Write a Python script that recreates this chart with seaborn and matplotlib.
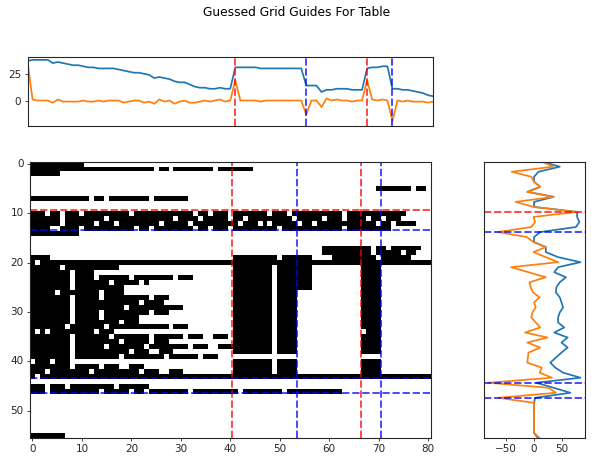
import numpy as np
import matplotlib
matplotlib.use("Agg")
import matplotlib.pyplot as plt
import seaborn as sns

W, H = 595, 462

# column totals and their step along the top panel
TOP_COLS = list(range(81))
TOP_TOTAL = [37, 38, 38, 38, 38, 35, 36, 35, 34, 33, 33, 32, 31, 31, 30, 30, 30, 30, 29, 28,
             27, 26, 26, 25, 24, 21, 22, 21, 20, 18, 17, 17, 15, 13, 12, 12, 11, 11, 12, 11,
             11, 31, 31, 31, 31, 31, 30, 30, 30, 30, 30, 30, 30, 30, 30, 14, 14, 14, 8, 10,
             10, 11, 11, 11, 10, 10, 10, 30, 31, 31, 32, 32, 11, 11, 10, 10, 9, 8, 7, 5, 4]
TOP_STEP = [36, 1, 0, 0, 0, -2, 1, -1, -1, -1, -1, 0, -1, -1, 0, -1, 0, 0, 0, -2,
            -1, 0, 0, -2, -1, -3, 1, -1, 0, -3, -1, 0, -2, -2, -1, 0, -1, 0, 1, -1,
            0, 19, 0, 0, 0, 0, -1, 0, 0, 0, 0, 0, 0, 0, 0, -13, 0, 0, -6, 2,
            0, 1, 0, 0, -1, 0, 0, 19, 1, 0, 1, 0, -19, 0, -1, 0, -1, -1, -1, -2, -1]

# row totals and their step along the side panel
SIDE_ROWS = list(range(56))
SIDE_TOTAL = [15, 46, 8, 0, 0, 11, -12, 35, 0, 0, 77, 77, 81, 75, 11, 0, 0, 21, 21, 43,
              83, 43, 36, 57, 46, 40, 39, 46, 49, 52, 46, 43, 43, 54, 36, 60, 49, 60, 49, 39,
              29, 38, 52, 83, 4, 35, 65, 2, 0, 0, 0, 0, 0, 0, 0, 7]
SIDE_STEP = [15, 34, -40, -5, 0, 11, -12, 35, -33, -1, 76, -1, 2, -5, -64, -13, -1, 21, -1, 21,
             43, -41, -10, 21, -8, -6, -2, 10, 0, 3, -3, -5, 3, 11, -16, 24, -12, 11, -10, -11,
             -12, 14, 10, 32, -82, 26, 39, -64, 0, 0, 0, 0, 0, 0, 0, 10]

# guide positions
MAIN_V_RED = [-0.5, 40.4, 66.4]
MAIN_V_BLUE = [53.5, 70.5]
MAIN_H_RED = [9.3]
MAIN_H_BLUE = [13.4, 43.3, 46.3]
TOP_V_RED = [41, 67]
TOP_V_BLUE = [55, 72]
SIDE_H_RED = [10]
SIDE_H_BLUE = [14, 44, 47]

# black runs (first col, last col) for each row of the table mask
WIDE = [(41, 48), (50, 56), (67, 70)]
NARROW = [(41, 48), (50, 53), (67, 70)]
ROW_RUNS = {
    0: [(0, 10)],
    1: [(0, 24), (26, 27), (29, 36), (38, 44)],
    2: [(0, 5)],
    5: [(70, 76), (78, 79)],
    7: [(0, 11), (13, 14), (16, 23), (25, 31)],
    10: [(0, 2), (4, 5), (7, 9), (11, 19), (21, 32), (34, 35), (37, 39), (41, 47), (49, 51), (53, 62), (64, 75)],
    11: [(0, 5), (7, 14), (16, 28), (30, 33), (35, 39), (41, 42), (44, 52), (54, 58), (60, 62), (64, 67), (69, 70), (72, 74)],
    12: [(0, 5), (7, 12), (14, 16), (18, 25), (27, 31), (33, 41), (43, 45), (47, 47), (49, 53), (55, 56), (58, 69), (71, 72), (74, 77)],
    13: [(0, 3), (6, 9), (11, 20), (22, 23), (25, 32), (34, 35), (37, 39), (41, 49), (51, 62), (64, 72)],
    14: [(0, 9)],
    17: [(59, 68), (70, 71), (73, 78)],
    18: [(59, 68), (70, 74), (76, 77)],
    19: [(0, 3), (41, 49), (51, 56), (61, 69), (71, 76)],
    20: [(0, 0), (2, 80)],
    21: [(0, 5), (7, 17)] + WIDE,
    22: [(0, 7), (9, 12)] + WIDE,
    23: [(0, 7), (9, 12), (14, 19), (21, 28), (30, 32)] + WIDE,
    24: [(0, 7), (9, 15), (17, 21), (23, 23)] + WIDE,
    25: [(0, 7), (9, 18)] + WIDE,
    26: [(0, 4), (6, 13), (15, 18)] + NARROW,
    27: [(0, 7), (9, 13), (15, 23), (25, 27)] + NARROW,
    28: [(0, 7), (9, 21), (23, 26)] + NARROW,
    29: [(0, 7), (9, 18), (20, 30)] + NARROW,
    30: [(0, 7), (9, 13), (15, 23), (25, 27)] + NARROW,
    31: [(0, 7), (9, 13), (15, 21)] + NARROW,
    32: [(0, 7), (9, 17), (19, 21)] + NARROW,
    33: [(0, 6), (8, 14), (16, 27), (29, 31)] + NARROW,
    34: [(0, 0), (2, 2), (4, 12), (14, 16), (41, 48), (50, 53), (68, 70)],
    35: [(0, 7), (9, 15), (17, 23), (25, 30), (32, 34), (37, 39)] + NARROW,
    36: [(0, 7), (9, 17), (19, 23), (25, 27)] + NARROW,
    37: [(0, 7), (9, 14), (16, 22), (24, 31), (33, 35), (38, 40)] + NARROW,
    38: [(0, 7), (9, 19), (21, 23), (26, 28)] + NARROW,
    39: [(0, 7), (9, 17), (19, 26), (28, 33), (35, 37)],
    40: [(1, 3), (5, 7)] + NARROW,
    41: [(0, 7), (9, 13), (15, 17), (20, 22)] + NARROW,
    42: [(0, 2), (4, 11), (13, 21), (23, 25), (28, 30)] + NARROW,
    43: [(0, 0), (2, 80)],
    45: [(0, 2), (4, 6), (8, 16), (18, 23)],
    46: [(0, 2), (4, 13), (15, 19), (21, 22), (24, 31), (33, 41), (43, 50), (52, 62)],
    55: [(0, 6)],
}
X_TICKS = [0, 10, 20, 30, 40, 50, 60, 70, 80]
Y_TICKS = [0, 10, 20, 30, 40, 50]
TOP_TICKS = [0, 25]
SIDE_TICKS = [-50, 0, 50]

BLUE_LINE = "#1f77b4"
ORANGE_LINE = "#ff7f0e"

sns.set_style("ticks")
plt.rcParams["font.family"] = ["DejaVu Sans"]


def px_axes(fig, left, top, right, bottom):
    return fig.add_axes([left / W, 1 - bottom / H, (right - left) / W, (bottom - top) / H])


def guides(ax, vert_red=(), vert_blue=(), horiz_red=(), horiz_blue=(), shift=0.0):
    style = dict(ls=(0, (4.2, 1.6)), lw=1.25, alpha=0.8, zorder=5)
    for v in vert_red:
        ax.axvline(v + shift, color="red", **style)
    for v in vert_blue:
        ax.axvline(v + shift, color="blue", **style)
    for v in horiz_red:
        ax.axhline(v + shift, color="red", **style)
    for v in horiz_blue:
        ax.axhline(v + shift, color="blue", **style)


def style_axes(ax):
    for s in ax.spines.values():
        s.set_visible(True)
        s.set_linewidth(0.8)
        s.set_zorder(6)
    ax.tick_params(labelsize=7.5, length=2.5, width=0.6, pad=2)


def main():
    mask = np.zeros((56, 81))
    for row, runs in ROW_RUNS.items():
        for a, b in runs:
            mask[row, a:b + 1] = 1

    fig = plt.figure(figsize=(W / 100, H / 100), dpi=100)
    fig.text(297 / W, 1 - 12.5 / H, "Guessed Grid Guides For Table", ha="center", va="center",
             fontsize=8.8, color="black")

    ax_top = px_axes(fig, 27.5, 57.3, 433, 126)
    sns.lineplot(x=TOP_COLS, y=TOP_TOTAL, color=BLUE_LINE, lw=1.25, ax=ax_top)
    sns.lineplot(x=TOP_COLS, y=TOP_STEP, color=ORANGE_LINE, lw=1.25, ax=ax_top)
    guides(ax_top, TOP_V_RED, TOP_V_BLUE)
    ax_top.set_xlim(0, 80)
    ax_top.set_ylim(-23.8, 40.4)
    ax_top.set_xticks([])
    ax_top.set_yticks(TOP_TICKS)
    style_axes(ax_top)

    ax_main = px_axes(fig, 30, 161.6, 430.7, 438)
    sns.heatmap(mask, cmap="gray_r", vmin=0, vmax=1, cbar=False, square=False, ax=ax_main)
    ax_main.set_aspect("auto")
    guides(ax_main, MAIN_V_RED, MAIN_V_BLUE, MAIN_H_RED, MAIN_H_BLUE, shift=0.5)
    ax_main.set_xticks([t + 0.5 for t in X_TICKS], X_TICKS, rotation=0)
    ax_main.set_yticks([t + 0.5 for t in Y_TICKS], Y_TICKS, rotation=0)
    style_axes(ax_main)

    ax_side = px_axes(fig, 483.7, 161.7, 585.3, 438)
    sns.lineplot(x=SIDE_TOTAL, y=SIDE_ROWS, orient="y", sort=False, color=BLUE_LINE, lw=1.25, ax=ax_side)
    sns.lineplot(x=SIDE_STEP, y=SIDE_ROWS, orient="y", sort=False, color=ORANGE_LINE, lw=1.25, ax=ax_side)
    guides(ax_side, horiz_red=SIDE_H_RED, horiz_blue=SIDE_H_BLUE)
    ax_side.set_ylim(55, 0)
    ax_side.set_xlim(-90, 91.6)
    ax_side.set_yticks([])
    ax_side.set_xticks(SIDE_TICKS)
    style_axes(ax_side)

    fig.savefig("out.png", dpi=100)
    plt.close(fig)


if __name__ == "__main__":
    main()
